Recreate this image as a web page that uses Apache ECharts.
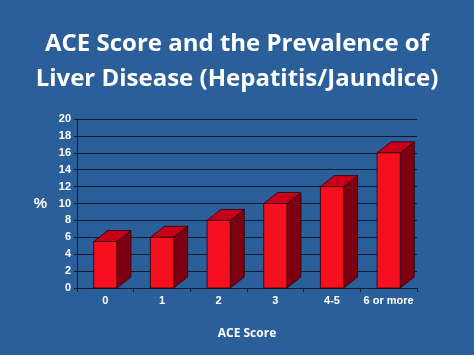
<!DOCTYPE html>
<html><head><meta charset="utf-8">
<script src="https://cdn.jsdelivr.net/npm/echarts@6/dist/echarts.min.js"></script>
<style>html,body{margin:0;padding:0;background:#2a5f99;}#c{width:474px;height:355px;}</style>
</head><body><div id="c"></div>
<script>
const categories = ['0', '1', '2', '3', '4-5', '6 or more'];
const values = [5.5, 6, 8, 10, 12, 16];
const yTicks = { min: 0, max: 20, interval: 2 };
const titleLines = ['ACE Score and the Prevalence of', 'Liver Disease (Hepatitis/Jaundice)'];

const chart = echarts.init(document.getElementById('c'), null, { renderer: 'canvas' });
const DX = 14, DY = 11;
function renderBar(params, api) {
  const i = api.value(0);
  const v = api.value(1);
  const top = api.coord([i, v]);
  const base = api.coord([i, 0]);
  const w = api.size([1, 0])[0] * 0.41;
  const x0 = top[0] - w / 2, x1 = top[0] + w / 2;
  const y0 = top[1], y1 = base[1];
  const stroke = { stroke: '#2a0006', lineWidth: 0.8 };
  return {
    type: 'group',
    children: [
      { type: 'polygon', shape: { points: [[x1, y1], [x1 + DX, y1 - DY], [x1 + DX, y0 - DY], [x1, y0]] },
        style: Object.assign({ fill: '#7c0011' }, stroke) },
      { type: 'polygon', shape: { points: [[x0, y0], [x0 + DX, y0 - DY], [x1 + DX, y0 - DY], [x1, y0]] },
        style: Object.assign({ fill: '#c6001b' }, stroke) },
      { type: 'rect', shape: { x: x0, y: y0, width: w, height: y1 - y0 },
        style: Object.assign({ fill: '#f4101f' }, stroke) }
    ]
  };
}
const axisFont = { color: '#ffffff', fontFamily: 'Arial, Liberation Sans', fontWeight: 'bold', fontSize: 11 };
chart.setOption({
  backgroundColor: '#2a5f99',
  animation: false,
  title: {
    text: titleLines.join('\n'),
    left: 'center', top: 22,
    textStyle: { color: '#ffffff', fontFamily: 'Open Sans', fontWeight: 'bold', fontSize: 24, lineHeight: 35 }
  },
  grid: { left: 77, right: 57, top: 119, bottom: 67 },
  xAxis: {
    type: 'category', data: categories,
    name: 'ACE Score', nameLocation: 'middle', nameGap: 40,
    nameTextStyle: { color: '#ffffff', fontFamily: 'Open Sans', fontWeight: 'bold', fontSize: 12 },
    axisLine: { lineStyle: { color: '#0c1a30', width: 1 } },
    axisTick: { show: true, alignWithLabel: false, length: 4, lineStyle: { color: '#0c1a30' } },
    axisLabel: Object.assign({ margin: 7, interval: 0 }, axisFont),
    splitLine: { show: false }
  },
  yAxis: {
    type: 'value', min: yTicks.min, max: yTicks.max, interval: yTicks.interval,
    name: '%', nameLocation: 'middle', nameGap: 30, nameRotate: 0,
    nameTextStyle: { color: '#ffffff', fontFamily: 'Arial, Liberation Sans', fontWeight: 'bold', fontSize: 15 },
    axisLine: { show: true, lineStyle: { color: '#0c1a30', width: 1 } },
    axisTick: { show: true, length: 3, lineStyle: { color: '#0c1a30' } },
    axisLabel: Object.assign({ margin: 6 }, axisFont),
    splitLine: { show: true, lineStyle: { color: '#0c1a30', width: 1.2 } }
  },
  series: [{
    type: 'custom',
    renderItem: renderBar,
    data: values.map((v, i) => [i, v]),
    encode: { x: 0, y: 1 },
    clip: false
  }]
});
</script></body></html>
